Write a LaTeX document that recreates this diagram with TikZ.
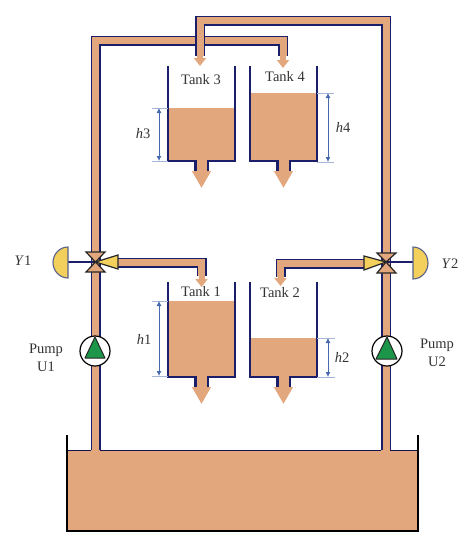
\documentclass[tikz,border=0pt]{standalone}
\usepackage{fontspec}
\setmainfont{Liberation Serif}
\usepackage{xcolor}
\usetikzlibrary{arrows.meta,calc}
\definecolor{liquid}{RGB}{226,167,124}
\definecolor{navyline}{RGB}{27,30,105}
\definecolor{dimblue}{RGB}{72,105,178}
\definecolor{dimpale}{RGB}{165,182,218}
\definecolor{sensor}{RGB}{243,207,91}
\definecolor{sensoredge}{RGB}{88,98,140}
\definecolor{pumpgreen}{RGB}{28,150,72}
\tikzset{
  pipe/.style    ={line width=1.5pt, draw=navyline, double=liquid, double distance=7pt, line join=miter},
  wall/.style    ={draw=navyline, line width=2.6pt, line cap=butt},
  outflow/.style ={-{Triangle[length=17pt,width=18pt]}, draw=liquid, fill=liquid, line width=10pt},
  inflow/.style  ={-{Triangle[length=8pt,width=12pt]}, draw=liquid, fill=liquid, line width=6pt},
  dimline/.style ={{Latex[length=5pt,width=5pt]}-{Latex[length=5pt,width=5pt]}, draw=dimblue, line width=0.8pt},
  extline/.style ={draw=dimpale, line width=0.8pt},
  lbl/.style     ={font=\fontsize{14.5}{17}\selectfont, text=black!80, inner sep=0pt, align=center},
  valvev/.style  ={draw=black!85, fill=liquid, line width=1.2pt, line join=miter},
  valveh/.style  ={draw=black!85, fill=sensor, line width=1.2pt, line join=miter},
  sensorcap/.style={draw=sensoredge, fill=sensor, line width=1.1pt},
  pumpcirc/.style={draw=black, fill=white, circle, line width=1.2pt, minimum size=30pt, inner sep=0pt},
  pumptri/.style ={draw=black!85, fill=pumpgreen, line width=1pt, line join=round},
}
% left wall x, right wall x, liquid top, tank top, node name
\newcommand{\tankbox}[5]{
  \coordinate (#5) at ({(#1+#2)/2},{#3});
  \fill[liquid] (#1,#3) rectangle (#2,{#4+95});
  \draw[wall] (#1,#4) -- (#1,{#4+95}) -- ({(#1+#2)/2-6},{#4+95}) -- ++(0,10);
  \draw[wall] (#2,#4) -- (#2,{#4+95}) -- ({(#1+#2)/2+6},{#4+95}) -- ++(0,10);
  \draw[outflow] ({(#1+#2)/2},{#4+93}) -- ({(#1+#2)/2},{#4+122});
}
\begin{document}
\begin{tikzpicture}[x=1pt,y=-1pt]
\useasboundingbox (0,0) rectangle (474,549);

% pipes
\draw[pipe] (95.5,451) -- (95.5,40.5) -- (283,40.5) -- (283,56);
\draw[pipe] (386,451) -- (386,20.5) -- (200,20.5) -- (200,56);
\draw[pipe] (118,262.5) -- (201.5,262.5) -- (201.5,276);
\draw[pipe] (364,263.5) -- (280.5,263.5) -- (280.5,277);
\draw[inflow] (283,55) -- (283,68);
\draw[inflow] (200,55) -- (200,66);
\draw[inflow] (201.5,275) -- (201.5,287);
\draw[inflow] (280.5,276) -- (280.5,286);

% tanks
\tankbox{168}{235}{108}{66}{t3}
\tankbox{250}{317}{93}{66}{t4}
\tankbox{168}{235}{301}{282}{t1}
\tankbox{250}{317}{338}{282}{t2}
\node[lbl] (tank3) at (201,80) {Tank 3};
\node[lbl] (tank4) at (285,77) {Tank 4};
\node[lbl] (tank1) at (201,292) {Tank 1};
\node[lbl] (tank2) at (280,293) {Tank 2};

% levels
\draw[extline] (152,108) -- (168,108) (152,161) -- (168,161);
\draw[dimline] (159,108) -- (159,161);
\node[lbl] (h3) at (143,134) {\textit{h}3};
\draw[extline] (317,93) -- (334,93) (317,162) -- (334,162);
\draw[dimline] (328,93) -- (328,162);
\node[lbl] (h4) at (343,127) {\textit{h}4};
\draw[extline] (152,301) -- (168,301) (152,376) -- (168,376);
\draw[dimline] (159,301) -- (159,376);
\node[lbl] (h1) at (144,339) {\textit{h}1};
\draw[extline] (317,338) -- (335,338) (317,377) -- (335,377);
\draw[dimline] (328,338) -- (328,377);
\node[lbl] (h2) at (342,357) {\textit{h}2};

% reservoir
\fill[liquid] (67,450) rectangle (418,531);
\draw[navyline!70!black,line width=1pt] (67,450) -- (91,450) (100,450) -- (381,450) (390,450) -- (418,450);
\draw[draw=black,line width=2pt] (67,435) -- (67,531) -- (418,531) -- (418,435);

% valve Y1
\coordinate (v1) at (95.5,262);
\draw[navyline,line width=1.5pt] (v1) -- (68,262);
\draw[sensorcap] (68,247) arc[start angle=-90,end angle=-270,x radius=15,y radius=15.5] -- cycle;
\draw[valvev] (v1) -- (86,252) -- (105,252) -- cycle;
\draw[valvev] (v1) -- (86,272) -- (105,272) -- cycle;
\draw[valveh] (v1) -- (118,255) -- (118,269) -- cycle;
\node[lbl] (y1) at (23,261) {\textit{Y}1};

% valve Y2
\coordinate (v2) at (386,262);
\draw[navyline,line width=1.5pt] (v2) -- (413,262);
\draw[sensorcap] (413,247) arc[start angle=-90,end angle=90,x radius=15,y radius=16] -- cycle;
\draw[valvev] (v2) -- (377,253) -- (396,253) -- cycle;
\draw[valvev] (v2) -- (377,273) -- (396,273) -- cycle;
\draw[valveh] (v2) -- (364,256) -- (364,270) -- cycle;
\node[lbl] (y2) at (450,264) {\textit{Y}2};

% pumps
\node[pumpcirc] (u1) at (95,351) {};
\draw[pumptri] (95,337) -- (105,358) -- (85,358) -- cycle;
\node[lbl] (pu1) at (46,358) {Pump\\[1pt]U1};
\node[pumpcirc] (u2) at (387,351) {};
\draw[pumptri] (387,337) -- (397,359) -- (376,359) -- cycle;
\node[lbl] (pu2) at (437,353) {Pump\\[1pt]U2};
\end{tikzpicture}
\end{document}
